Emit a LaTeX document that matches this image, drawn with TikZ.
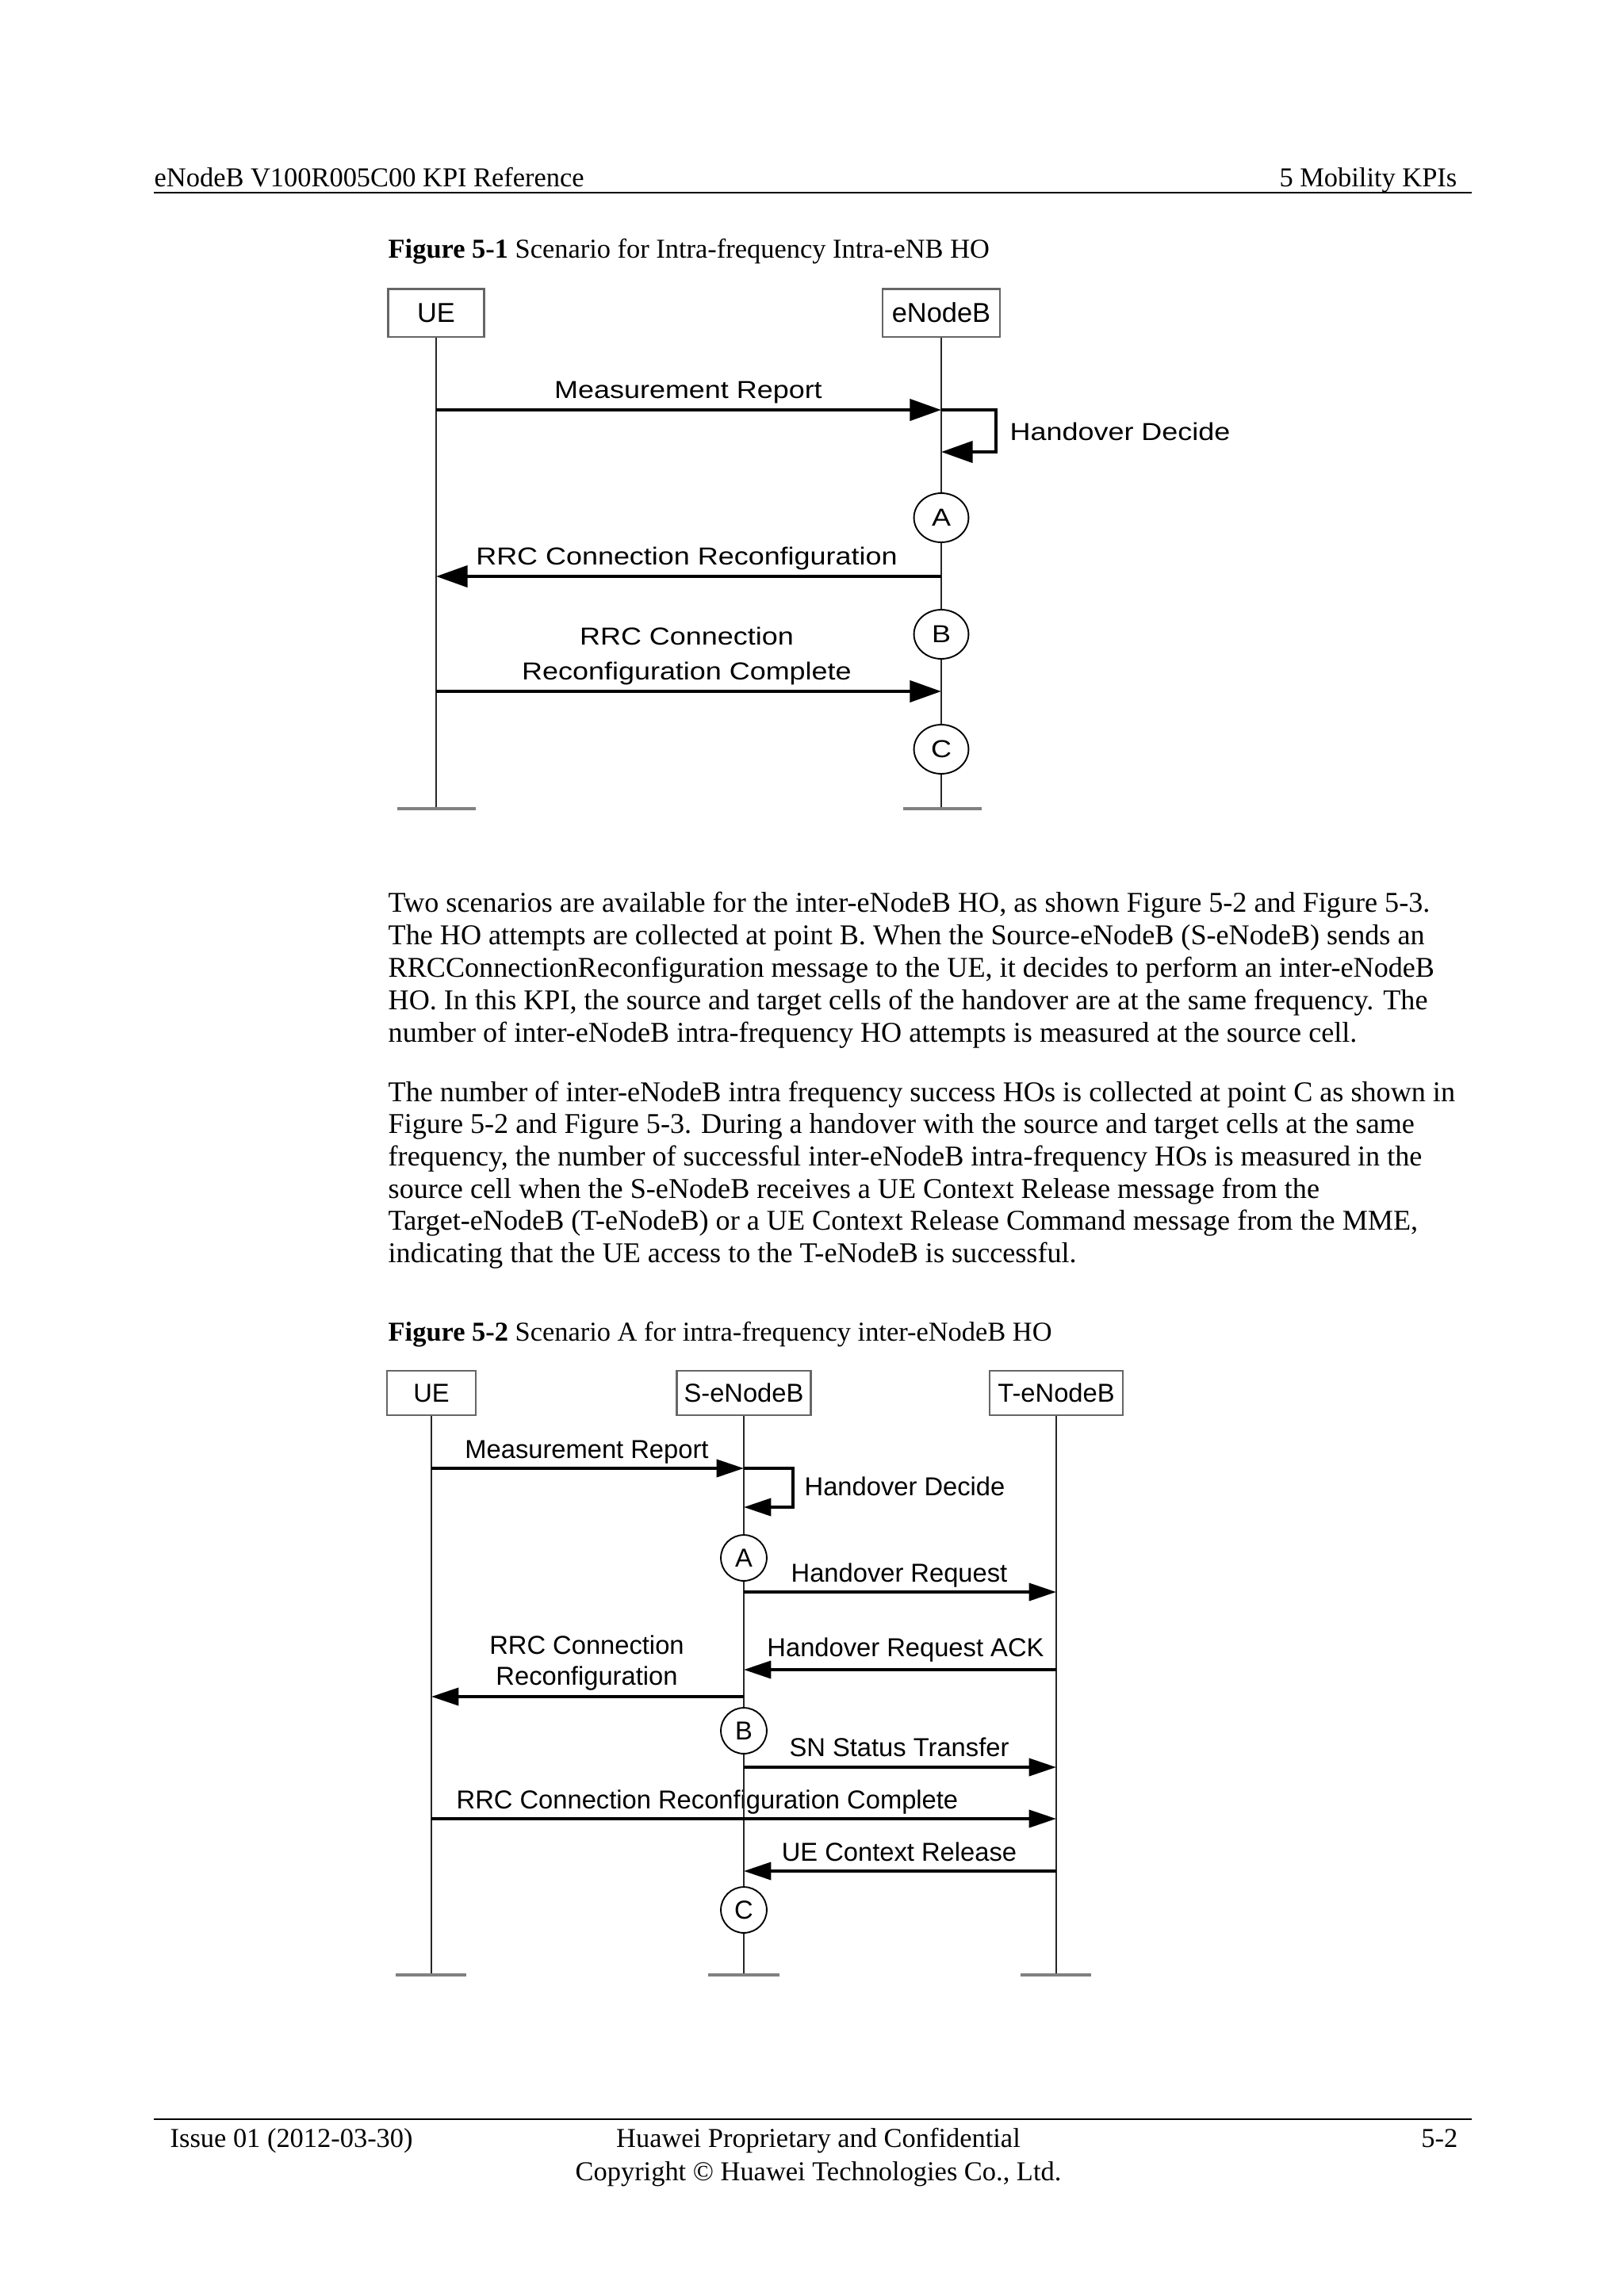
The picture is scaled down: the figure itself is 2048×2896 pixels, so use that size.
\documentclass[tikz,border=0pt]{standalone}
\usepackage{fontspec}
\setmainfont{Liberation Serif}
\newfontfamily\figsans{Liberation Sans}
\newfontfamily\figwide[FakeStretch=1.16]{Liberation Sans}
\usetikzlibrary{arrows.meta,shapes.geometric}
\begin{document}
\begin{tikzpicture}[x=0.2905pt,y=-0.2905pt,
  txt/.style={anchor=base west, inner sep=0, font=\fontsize{10.5}{12}\selectfont},
  hdr/.style={inner sep=0, font=\fontsize{10}{12}\selectfont},
  figcap/.style={anchor=base west, inner sep=0, font=\fontsize{10}{12}\selectfont},
  lblA/.style={anchor=base, inner sep=0, font=\figwide\fontsize{9}{11}\selectfont},
  lblB/.style={anchor=base, inner sep=0, font=\figsans\fontsize{9.5}{11}\selectfont},
  boxA/.style={draw=black!60, line width=0.85pt, fill=white, inner sep=0, minimum height=17.7pt, font=\figsans\fontsize{10}{11}\selectfont},
  boxB/.style={draw=black!60, line width=0.8pt, fill=white, inner sep=0, minimum height=16.3pt, font=\figsans\fontsize{9.5}{11}\selectfont},
  life/.style={line width=0.6pt, draw=black!85},
  bar/.style={line width=1.2pt, draw=black!50},
  msgA/.style={line width=1.3pt, line join=miter, -{Triangle[length=11.5pt,width=7.8pt]}},
  msgB/.style={line width=1.15pt, line join=miter, -{Triangle[length=10pt,width=6.4pt]}},
  ptA/.style={ellipse, draw, line width=0.55pt, fill=white, minimum width=20pt, minimum height=18pt, inner sep=0, font=\figwide\fontsize{9}{11}\selectfont},
  ptB/.style={circle, draw, line width=0.55pt, fill=white, minimum size=16.8pt, inner sep=0, font=\figsans\fontsize{9.5}{11}\selectfont}
]
\useasboundingbox[fill=white] (0,0) rectangle (2048,2896);

% ---------- header ----------
\node[hdr, anchor=base west] (hl) at (194,235) {eNodeB V100R005C00 KPI Reference};
\node[hdr, anchor=base east] (hr) at (1838,235) {5 Mobility KPIs};
\coordinate (hrl) at (194,243);
\coordinate (hrr) at (1856,243);
\draw[line width=0.7pt] (hrl) -- (hrr);

% ---------- Figure 5-1 ----------
\node[figcap] (cap1) at (489,325) {\textbf{Figure 5-1} Scenario for Intra-frequency Intra-eNB HO};

\node[boxA, minimum width=35.4pt] (ue1) at (550,394.5) {UE};
\node[boxA, minimum width=43pt] (enb1) at (1187,394.5) {eNodeB};
\coordinate (ue1e) at (550,1020);
\coordinate (enb1e) at (1187,1020);

\node[lblA] (l11) at (868,502) {Measurement Report};
\node[lblA, anchor=base west] (l12) at (1273,555) {Handover Decide};
\node[lblA] (l13) at (866,712) {RRC Connection Reconfiguration};
\node[lblA] (l14) at (866,813) {RRC Connection};
\node[lblA] (l15) at (866,857) {Reconfiguration Complete};

\draw[life] (ue1) -- (ue1e);
\draw[life] (enb1) -- (enb1e);
\draw[bar] (501,1020) -- (600,1020);
\draw[bar] (1139,1020) -- (1238,1020);

\draw[msgA] (ue1 |- 0,517) -- (enb1 |- 0,517);
\draw[msgA] (enb1 |- 0,517) -- (1256,517) -- (1256,570) -- (enb1 |- 0,570);
\draw[msgA] (enb1 |- 0,727) -- (ue1 |- 0,727);
\draw[msgA] (ue1 |- 0,872) -- (enb1 |- 0,872);

\node[ptA] (a1) at (1187,653) {A};
\node[ptA] (b1) at (1187,800) {B};
\node[ptA] (c1) at (1187,945) {C};

% ---------- body text ----------
\node[txt] (p11) at (489,1150) {Two scenarios are available for the inter-eNodeB HO, as shown Figure 5-2 and Figure 5-3.};
\node[txt] (p12) at (489,1191) {The HO attempts are collected at point B. When the Source-eNodeB (S-eNodeB) sends an};
\node[txt] (p13) at (489,1232) {RRCConnectionReconfiguration message to the UE, it decides to perform an inter-eNodeB};
\node[txt] (p14) at (489,1273) {HO. In this KPI, the source and target cells of the handover are at the same frequency. The};
\node[txt] (p15) at (489,1314) {number of inter-eNodeB intra-frequency HO attempts is measured at the source cell.};

\node[txt] (p21) at (489,1389) {The number of inter-eNodeB intra frequency success HOs is collected at point C as shown in};
\node[txt] (p22) at (489,1429) {Figure 5-2 and Figure 5-3. During a handover with the source and target cells at the same};
\node[txt] (p23) at (489,1470) {frequency, the number of successful inter-eNodeB intra-frequency HOs is measured in the};
\node[txt] (p24) at (489,1511) {source cell when the S-eNodeB receives a UE Context Release message from the};
\node[txt] (p25) at (489,1551) {Target-eNodeB (T-eNodeB) or a UE Context Release Command message from the MME,};
\node[txt] (p26) at (489,1592) {indicating that the UE access to the T-eNodeB is successful.};

% ---------- Figure 5-2 ----------
\node[figcap] (cap2) at (489,1691) {\textbf{Figure 5-2} Scenario A for intra-frequency inter-eNodeB HO};

\node[boxB, minimum width=32.5pt] (ue2) at (544,1757) {UE};
\node[boxB, minimum width=49pt] (s2) at (938,1757) {S-eNodeB};
\node[boxB, minimum width=48.8pt] (t2) at (1332,1757) {T-eNodeB};
\coordinate (ue2e) at (544,2491);
\coordinate (s2e) at (938,2491);
\coordinate (t2e) at (1332,2491);

\node[lblB] (l21) at (740,1839) {Measurement Report};
\node[lblB, anchor=base west] (l22) at (1014,1886) {Handover Decide};
\node[lblB] (l23) at (1134,1995) {Handover Request};
\node[lblB] (l24) at (1142,2089) {Handover Request ACK};
\node[lblB] (l25) at (740,2086) {RRC Connection};
\node[lblB] (l26) at (740,2125) {Reconfiguration};
\node[lblB] (l27) at (1134,2215) {SN Status Transfer};
\node[lblB] (l28) at (892,2281) {RRC Connection Reconfiguration Complete};
\node[lblB] (l29) at (1134,2347) {UE Context Release};

\draw[life] (ue2) -- (ue2e);
\draw[life] (s2) -- (s2e);
\draw[life] (t2) -- (t2e);
\draw[bar] (499,2491) -- (588,2491);
\draw[bar] (893,2491) -- (983,2491);
\draw[bar] (1287,2491) -- (1376,2491);

\draw[msgB] (ue2 |- 0,1852) -- (s2 |- 0,1852);
\draw[msgB] (s2 |- 0,1852) -- (1000,1852) -- (1000,1901) -- (s2 |- 0,1901);
\draw[msgB] (s2 |- 0,2008) -- (t2 |- 0,2008);
\draw[msgB] (t2 |- 0,2106) -- (s2 |- 0,2106);
\draw[msgB] (s2 |- 0,2140) -- (ue2 |- 0,2140);
\draw[msgB] (s2 |- 0,2229) -- (t2 |- 0,2229);
\draw[msgB] (ue2 |- 0,2294) -- (t2 |- 0,2294);
\draw[msgB] (t2 |- 0,2360) -- (s2 |- 0,2360);

\node[ptB] (a2) at (938,1965) {A};
\node[ptB] (b2) at (938,2183) {B};
\node[ptB] (c2) at (938,2409) {C};

% ---------- footer ----------
\coordinate (frl) at (194,2673);
\coordinate (frr) at (1856,2673);
\draw[line width=0.75pt] (frl) -- (frr);
\node[hdr, anchor=base west] (f1) at (214,2708) {Issue 01 (2012-03-30)};
\node[hdr, anchor=base] (f2) at (1032,2708) {Huawei Proprietary and Confidential};
\node[hdr, anchor=base] (f3) at (1032,2750) {Copyright © Huawei Technologies Co., Ltd.};
\node[hdr, anchor=base east] (f4) at (1839,2708) {5-2};
\end{tikzpicture}
\end{document}
